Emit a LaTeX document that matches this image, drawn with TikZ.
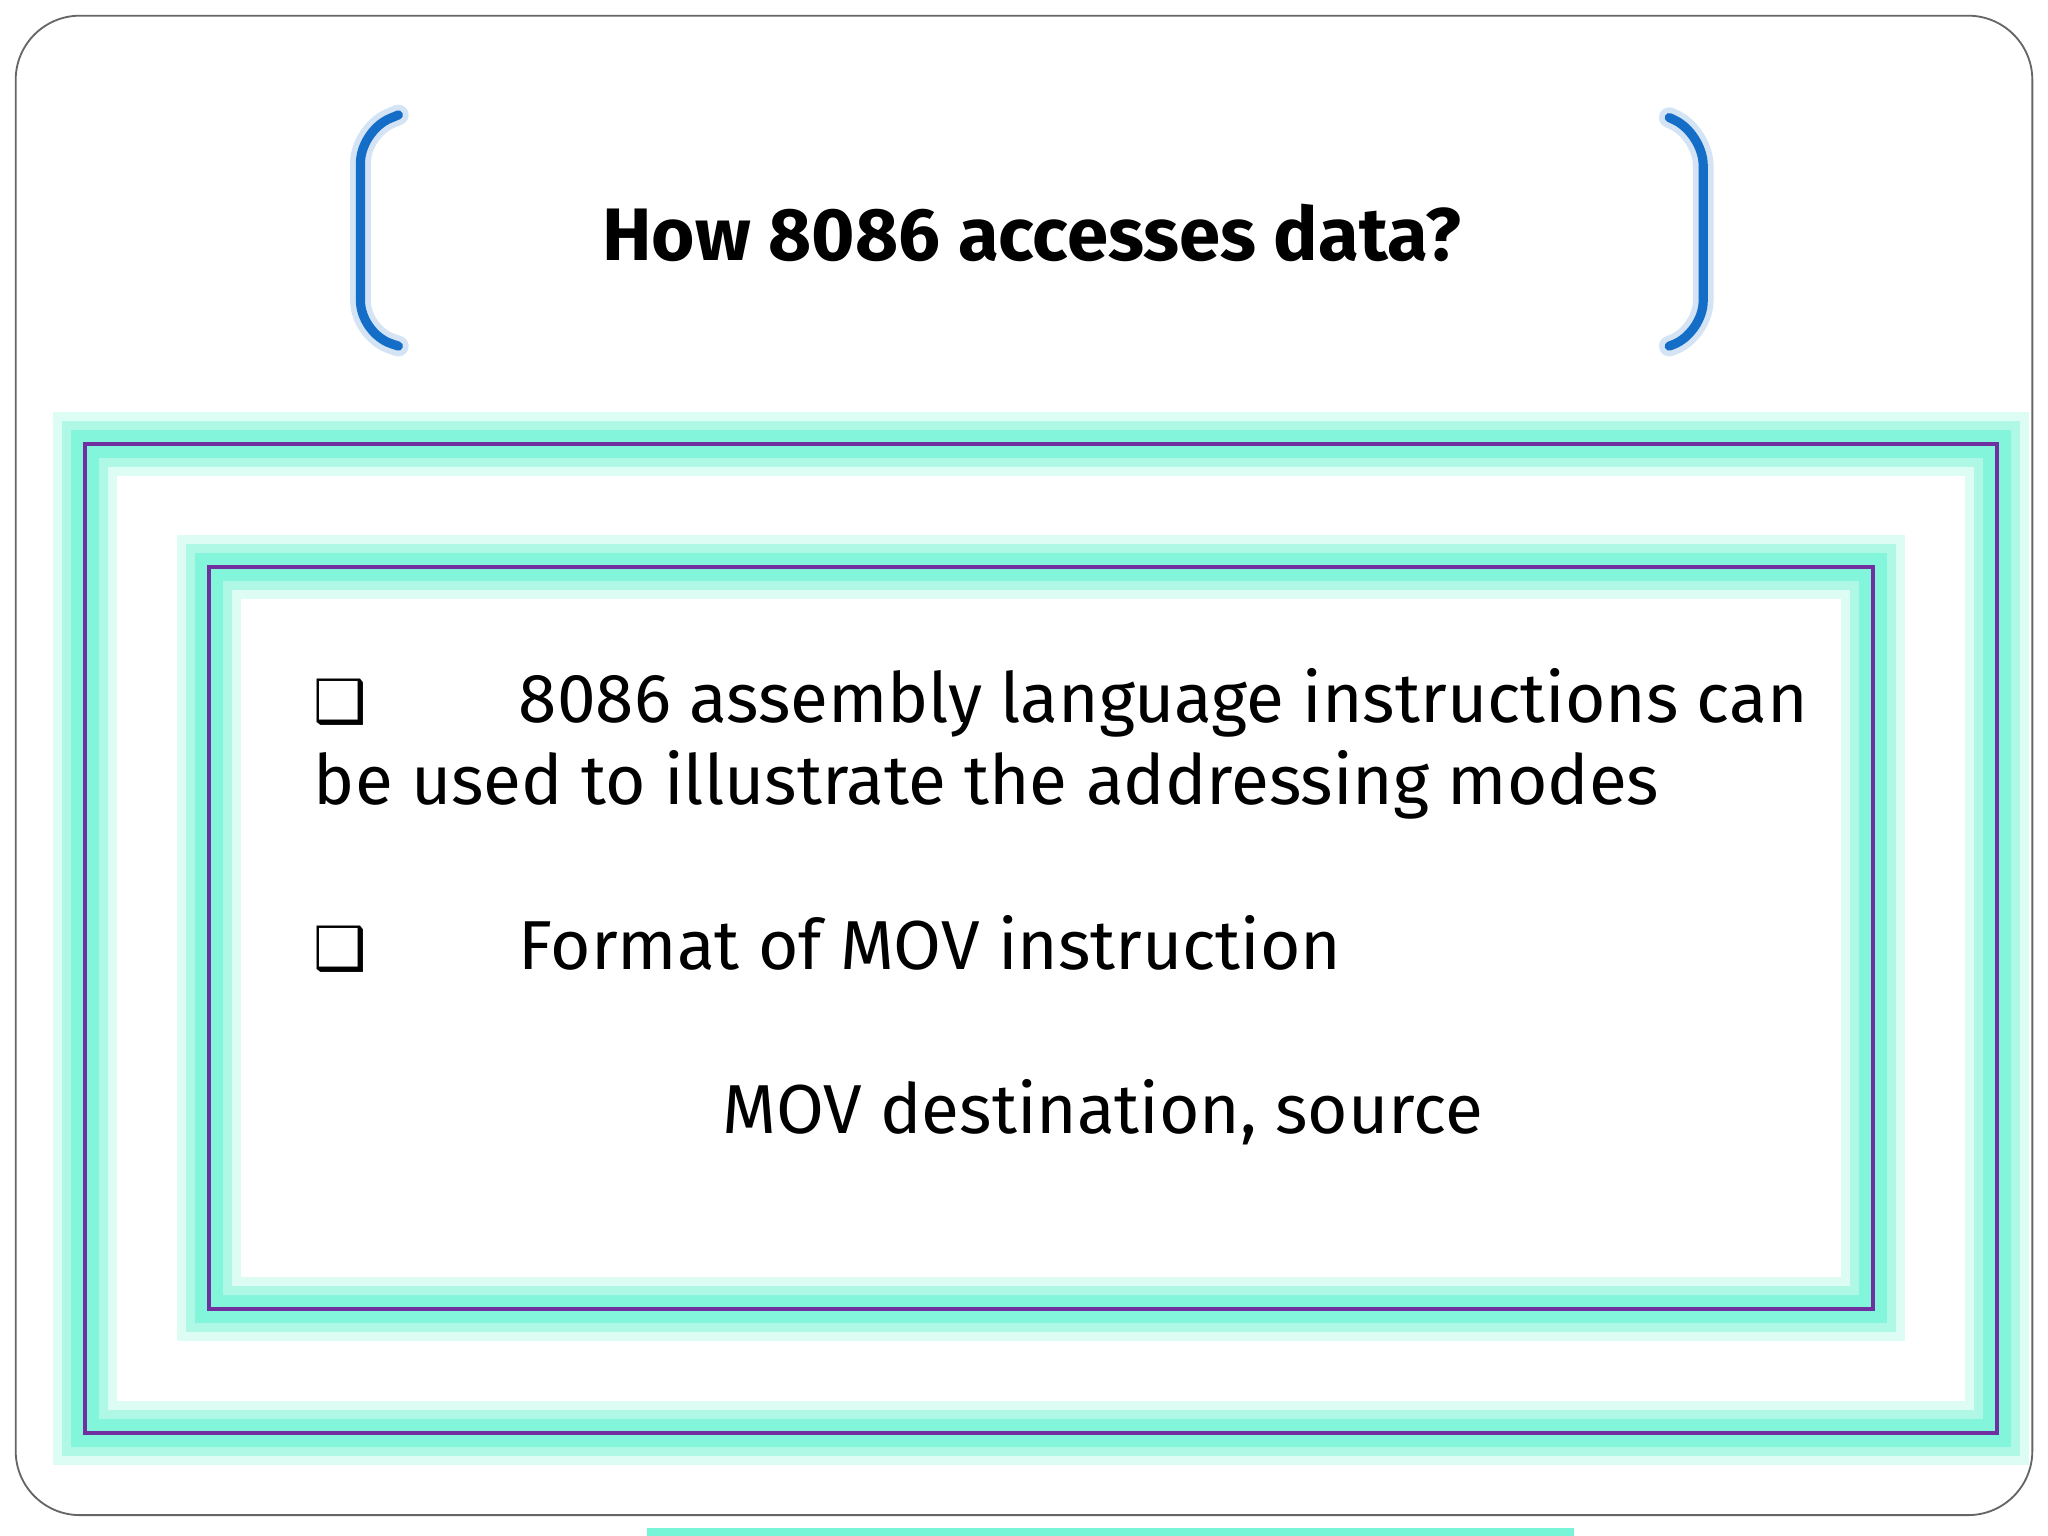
\documentclass[tikz,border=0pt]{standalone}
\usepackage{fontspec}
\setmainfont{Fira Sans}
\newfontfamily\symf{DejaVu Sans}
\definecolor{glowc}{RGB}{120,245,215}
\definecolor{purp}{RGB}{112,48,160}
\definecolor{brblue}{RGB}{20,110,200}
\tikzset{
  glowA/.style={draw=glowc,line width=28pt,opacity=0.25},
  glowB/.style={draw=glowc,line width=20pt,opacity=0.45},
  glowC/.style={draw=glowc,line width=12pt,opacity=0.8},
  purprect/.style={draw=purp,line width=1.8pt},
  brk/.style={draw=brblue,line width=4pt,line cap=round,rounded corners=14pt},
  brkglow/.style={draw=brblue!30,line width=9pt,line cap=round,rounded corners=14pt,opacity=0.6},
  txt/.style={anchor=base west,font=\fontsize{30.2}{36}\selectfont,inner sep=0pt},
  bul/.style={anchor=base west,font=\symf\bfseries\fontsize{26}{30}\selectfont,inner sep=0pt}
}
\begin{document}
\begin{tikzpicture}[x=0.02cm,y=-0.02cm]
\useasboundingbox (0,0) rectangle (1568,1176);
\fill[white] (0,0) rectangle (1568,1176);
\draw[gray!80!black,line width=0.8pt,rounded corners=28pt] (12,12) rectangle (1556,1160);
% brackets
\draw[brkglow] (305,88) -- (276,100) -- (276,255) -- (305,265);
\draw[brk] (305,88) -- (276,100) -- (276,255) -- (305,265);
\draw[brkglow] (1278,90) -- (1304,102) -- (1304,255) -- (1278,265);
\draw[brk] (1278,90) -- (1304,102) -- (1304,255) -- (1278,265);
\node[font=\bfseries\fontsize{32.4}{38}\selectfont] (title) at (790,178) {How 8086 accesses data?};
% outer frame
\foreach \s in {glowA,glowB,glowC}{\draw[\s] (65,340) rectangle (1529,1097);}
\draw[purprect] (65,340) rectangle (1529,1097);
% inner frame
\foreach \s in {glowA,glowB,glowC}{\draw[\s] (160,434) rectangle (1434,1002);}
\draw[purprect] (160,434) rectangle (1434,1002);
% bottom bar
\fill[glowc] (495,1170) rectangle (1205,1176);
% text
\node[bul] (b1) at (240,553) {❑};
\node[txt] (t1) at (397,553) {8086 assembly language instructions can};
\node[txt] (t2) at (240,616) {be used to illustrate the addressing modes};
\node[bul] (b2) at (240,742) {❑};
\node[txt] (t3) at (397,742) {Format of MOV instruction};
\node[txt] (t4) at (553,868) {MOV destination, source};
\end{tikzpicture}
\end{document}
